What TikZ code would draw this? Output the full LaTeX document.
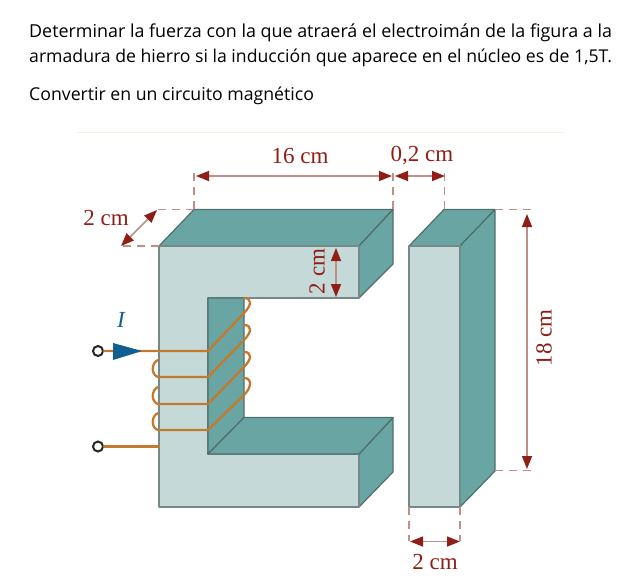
\documentclass[tikz,border=0pt]{standalone}
\usepackage{fontspec}
\setmainfont{Liberation Serif}
\newfontfamily\bodyfont{Open Sans}
\usetikzlibrary{arrows.meta}
\definecolor{facelight}{HTML}{C5D9D8}
\definecolor{faceteal}{HTML}{69A5A2}
\definecolor{edgedark}{HTML}{4F6F6D}
\definecolor{edgegrey}{HTML}{788887}
\definecolor{wirecol}{HTML}{C47A2E}
\definecolor{bluecol}{HTML}{0F5F90}
\definecolor{dimred}{HTML}{8F1F16}
\definecolor{dimline}{HTML}{BF8F88}
\definecolor{rulecol}{HTML}{FBF1E3}
\tikzset{
  x=1pt,y=-1pt,
  front/.style={fill=facelight,draw=edgegrey,line width=1.5pt,line join=round},
  side/.style={fill=faceteal,draw=edgedark,line width=1.2pt,line join=round},
  wire/.style={draw=wirecol,line width=2.3pt,line join=round,line cap=round},
  dimarrow/.style={draw=dimline,line width=1.5pt,{Triangle[length=13pt,width=10pt,color=dimred]}-{Triangle[length=13pt,width=10pt,color=dimred]}},
  dimdash/.style={draw=dimline,line width=1.5pt,dash pattern=on 8pt off 6pt},
  dimtext/.style={text=dimred,font=\fontsize{23}{25}\selectfont,inner sep=0pt},
  bodytext/.style={anchor=west,inner sep=0pt,font=\bodyfont\fontsize{#1}{20}\selectfont},
  terminal/.style={circle,draw=black!85,fill=white,line width=2pt,minimum size=10pt,inner sep=0pt}
}
\begin{document}
\begin{tikzpicture}
\useasboundingbox (0,0) rectangle (628,579);
\fill[white] (0,0) rectangle (628,579);
% texts
\node[bodytext=17.9] (line1) at (29,33) {Determinar la fuerza con la que atraerá el electroimán de la figura a la};
\node[bodytext=17.65] (line2) at (29,58) {armadura de hierro si la inducción que aparece en el núcleo es de 1,5T.};
\node[bodytext=17.7] (line3) at (29,95.5) {Convertir en un circuito magnético};
\draw[rulecol,line width=1pt] (77,132.5) -- (565,132.5);
% U core
\draw[side] (159,246) -- (194,209.5) -- (393,209.5) -- (359,246) -- cycle;
\draw[side] (359,246) -- (393,209.5) -- (393,264) -- (359,298) -- cycle;
\draw[side] (359,454) -- (393,417.5) -- (393,472) -- (359,507) -- cycle;
\draw[front] (159,246) -- (359,246) -- (359,298) -- (208,298) -- (208,454) -- (359,454) -- (359,507) -- (159,507) -- cycle;
\draw[side] (208,298) -- (244,298) -- (244,417.5) -- (208,454) -- cycle;
\draw[side] (208,454) -- (244,417.5) -- (393,417.5) -- (359,454) -- cycle;
% armature
\draw[side] (409,246) -- (444,209.5) -- (495,209.5) -- (460,246) -- cycle;
\draw[side] (460,246) -- (495,209.5) -- (495,471) -- (460,507) -- cycle;
\draw[front] (409,246) rectangle (460,507);
% coil
\node[terminal] (t1) at (98,351) {};
\node[terminal] (t2) at (98,446.5) {};
\coordinate (w1) at (208,351);
\draw[wire] (t1) -- (w1) -- (244,313) .. controls (252,305) and (252,298) .. (244,298);
\draw[wire] (158,377) .. controls (151,375) and (151,363) .. (158,360) (158,377) -- (208,377) -- (244,340) .. controls (252,332) and (252,325) .. (244,325);
\draw[wire] (158,404) .. controls (151,402) and (151,390) .. (158,387) (158,404) -- (208,404) -- (244,367) .. controls (252,359) and (252,352) .. (244,352);
\draw[wire] (158,430) .. controls (151,428) and (151,416) .. (158,413) (158,430) -- (208,430) -- (244,395) .. controls (252,387) and (252,378) .. (244,378);
\draw[wire] (t2) -- (159,446.5);
\coordinate (a1) at (113,343); \coordinate (a2) at (113,360); \coordinate (a3) at (142,351);
\fill[bluecol] (a1) -- (a3) -- (a2) -- cycle;
\node[text=bluecol,inner sep=0pt,font=\fontsize{23}{25}\selectfont\itshape] (ilabel) at (121,320) {I};
% dimensions
\coordinate (d16a) at (196,176); \coordinate (d16b) at (392,176); \coordinate (d02a) at (395,176); \coordinate (d02b) at (445,176);
\draw[dimdash] (194,209) -- (194,169);
\draw[dimdash] (393,209) -- (393,169);
\draw[dimdash] (444.5,209) -- (444.5,169);
\draw[dimarrow] (d16a) -- (d16b);
\draw[dimarrow] (d02a) -- (d02b);
\node[dimtext] (l16) at (300,155.5) {16 cm};
\node[dimtext] (l02) at (422,155.5) {0,2 cm};
\draw[dimdash] (194,209.5) -- (156,209.5);
\draw[dimdash] (159,246) -- (120,246);
\coordinate (dla) at (121,246); \coordinate (dlb) at (157,210);
\draw[dimarrow] (dla) -- (dlb);
\node[dimtext] (l2a) at (106,218) {2 cm};
\coordinate (dva) at (336,248); \coordinate (dvb) at (336,297);
\draw[dimarrow] (dva) -- (dvb);
\node[dimtext,rotate=90] (l2b) at (317,271.5) {2 cm};
\draw[dimdash] (495,209.5) -- (534,209.5);
\draw[dimdash] (495,470.5) -- (534,470.5);
\coordinate (d18a) at (527,214); \coordinate (d18b) at (527,469);
\draw[dimarrow] (d18a) -- (d18b);
\node[dimtext,rotate=90] (l18) at (544,338) {18 cm};
\draw[dimdash] (409,507) -- (409,541);
\draw[dimdash] (460,507) -- (460,541);
\coordinate (d2a) at (410,541.5); \coordinate (d2b) at (460,541.5);
\draw[dimarrow] (d2a) -- (d2b);
\node[dimtext] (l2c) at (435,562) {2 cm};
\end{tikzpicture}
\end{document}
